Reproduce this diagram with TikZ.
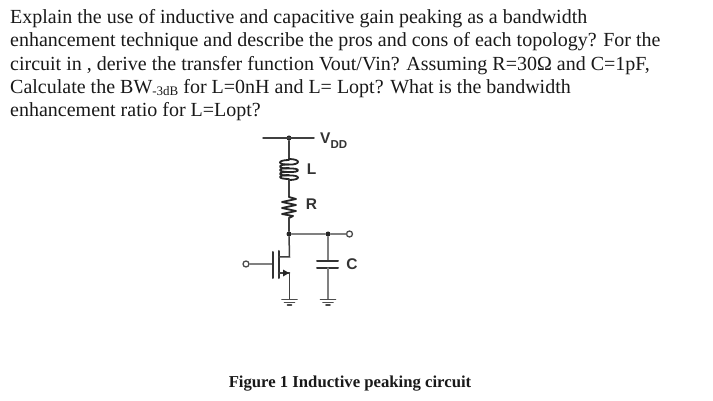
\documentclass[tikz,border=0pt]{standalone}
\usepackage{fontspec}
\setmainfont{Liberation Serif}
\setsansfont{Liberation Sans}
\tikzset{
 line/.style={line width=1.5pt,black!75},
 thinline/.style={line width=1.4pt,black!50},
 para/.style={anchor=base west,inner sep=0pt,font=\fontsize{20}{22}\selectfont,text=black!90},
 lab/.style={inner sep=0pt,font=\sffamily\bfseries\fontsize{15.5}{15.5}\selectfont,text=black!80},
 dot/.style={circle,fill=black!85,inner sep=0pt,minimum size=5pt},
 term/.style={circle,draw=black!70,line width=1.3pt,fill=white,inner sep=0pt,minimum size=6pt},
 plate/.style={line width=2pt,black!80},
 coil/.style={line width=1.8pt,black!85,line join=round},
 gnd/.style={line width=1.8pt,black!70},
}
\begin{document}
\begin{tikzpicture}[x=1pt,y=-1pt,line cap=round]
\useasboundingbox[fill=white] (0,0) rectangle (713,401);
\node[para] (t1) at (10,24) {Explain the use of inductive and capacitive gain peaking as a bandwidth};
\node[para] (t2) at (10,47) {enhancement technique and describe the pros and cons of each topology? For the};
\node[para] (t3) at (10,70.5) {circuit in , derive the transfer function Vout/Vin? Assuming R=30Ω and C=1pF,};
\node[para] (t4) at (10,94) {Calculate the BW\raisebox{-0.2ex}{\fontsize{13}{13}\selectfont -3dB} for L=0nH and L= Lopt? What is the bandwidth};
\node[para] (t5) at (10,116.7) {enhancement ratio for L=Lopt?};
% supply
\coordinate (vl) at (263,138); \coordinate (vr) at (314,138);
\node[dot] (vd) at (289,138) {};
\draw[line] (vl) -- (vr);
\node[lab,anchor=west] (vdd) at (320,141) {V\raisebox{-0.6ex}{\fontsize{11.5}{11.5}\selectfont DD}};
% inductor
\coordinate (la) at (289,159); \coordinate (lb) at (289,180);
\draw[line] (vd) -- (la);
\draw[coil] (la) .. controls (301,159) and (301,165) .. (289,164.5)
 .. controls (277,164) and (277,169) .. (289,168.5)
 .. controls (301,168) and (301,172.5) .. (289,172)
 .. controls (277,171.5) and (277,176) .. (289,175.5)
 .. controls (301,175) and (301,180) .. (lb);
\draw[coil] (289,164.5) .. controls (277,165) and (277,160) .. (289,160);
\draw[coil] (289,172) .. controls (277,172) and (277,168) .. (289,168);
\draw[coil] (289,179) .. controls (277,179) and (277,175) .. (289,175);
\node[lab] (L) at (311.5,169) {L};
% resistor
\coordinate (ra) at (289,197); \coordinate (rb) at (289,218);
\draw[line] (lb) -- (ra);
\draw[coil] (ra) -- (296,199) -- (282,202) -- (296,205) -- (282,208) -- (296,211) -- (282,214) -- (293,216) -- (rb);
\node[lab] (R) at (311.5,204) {R};
% output
\node[dot] (n) at (289,234) {};
\node[dot] (nc) at (328,234) {};
\node[term] (out) at (349.5,234) {};
\draw[line] (rb) -- (n);
\draw[thinline] (n) -- (nc) -- (out);
% capacitor
\coordinate (c1l) at (317,261); \coordinate (c1r) at (338,261);
\coordinate (c2l) at (317,268); \coordinate (c2r) at (338,268);
\coordinate (c1) at (328,261); \coordinate (c2) at (328,268);
\draw[thinline] (nc) -- (c1);
\draw[plate] (c1l) -- (c1r);
\draw[plate] (c2l) -- (c2r);
\node[lab] (C) at (352,264) {C};
% cap ground
\coordinate (cg) at (328,299);
\draw[thinline] (c2) -- (cg);
\draw[gnd] (320.5,299.5) -- (335.5,299.5);
\draw[gnd] (323,302.5) -- (333,302.5);
\draw[gnd] (326,305) -- (330,305);
% transistor
\node[term] (in) at (246,264) {};
\coordinate (gate) at (273,264);
\draw[thinline] (in) -- (gate);
\draw[plate] (273,252) -- (273,278);
\draw[plate] (278.5,251) -- (278.5,278);
\coordinate (dr) at (289.5,257); \coordinate (so) at (289.5,273);
\draw[line] (n) -- (dr) -- (278.5,257);
\draw[line] (278.5,273) -- (so);
\fill[black!85] (289,273) -- (283,269.5) -- (283,276.5) -- cycle;
\coordinate (sg) at (289.5,299);
\draw[line] (so) -- (sg);
\draw[gnd] (282,299.5) -- (297,299.5);
\draw[gnd] (284.5,302.5) -- (294.5,302.5);
\draw[gnd] (287.5,305) -- (291.5,305);
\node[inner sep=0pt,anchor=base,font=\bfseries\fontsize{16.7}{18}\selectfont,text=black!90] (cap) at (350,387) {Figure 1 Inductive peaking circuit};
\end{tikzpicture}
\end{document}
